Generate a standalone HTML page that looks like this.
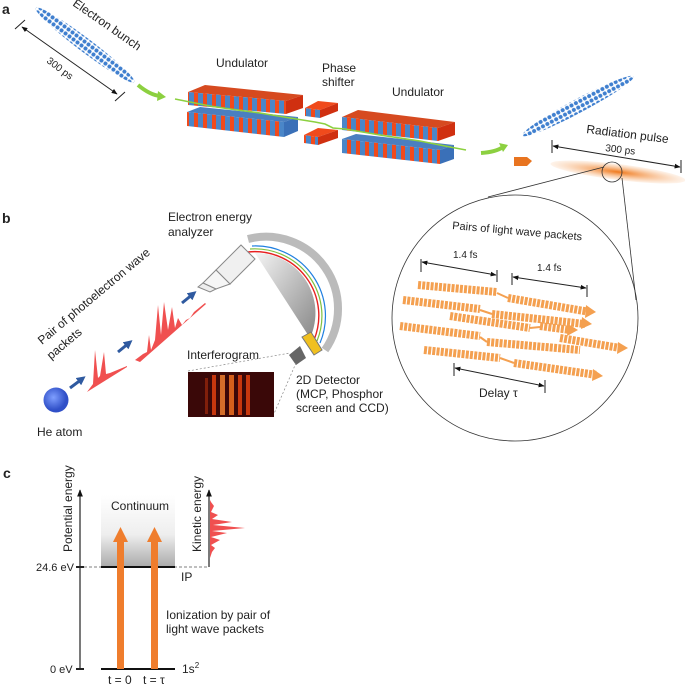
<!DOCTYPE html>
<html><head><meta charset="utf-8"><style>
html,body{margin:0;padding:0;background:#fff}
svg{display:block}
text{font-family:"Liberation Sans",Arial,sans-serif;fill:#222}
</style></head><body>
<svg width="685" height="684" viewBox="0 0 685 684" xmlns="http://www.w3.org/2000/svg">
<defs>
<pattern id="dots" width="5" height="5" patternUnits="userSpaceOnUse">
<circle cx="2.5" cy="2.5" r="2" fill="#3f7fcf"/>
</pattern>
<pattern id="mag" width="9" height="10" patternUnits="userSpaceOnUse">
<rect width="5" height="10" fill="#4a86c8"/><rect x="5" width="4" height="10" fill="#f04a1c"/>
</pattern>
<linearGradient id="cont" x1="0" y1="0" x2="0" y2="1">
<stop offset="0" stop-color="#fff"/><stop offset="0.55" stop-color="#eee"/><stop offset="1" stop-color="#aaa"/>
</linearGradient>
<linearGradient id="disk" x1="0" y1="0" x2="1" y2="1">
<stop offset="0" stop-color="#f4f4f4"/><stop offset="1" stop-color="#888"/>
</linearGradient>
<radialGradient id="pulse"><stop offset="0" stop-color="#f07a1e"/><stop offset="1" stop-color="#f7b37a" stop-opacity="0.15"/></radialGradient>
<radialGradient id="he" cx="0.4" cy="0.4"><stop offset="0" stop-color="#7f9fff"/><stop offset="1" stop-color="#3050c8"/></radialGradient>
<marker id="ah" viewBox="0 0 10 10" refX="9" refY="5" markerWidth="6" markerHeight="6" orient="auto-start-reverse"><path d="M0,1 L10,5 L0,9 z" fill="#111"/></marker>
<marker id="ahb" viewBox="0 0 10 10" refX="5" refY="5" markerWidth="3" markerHeight="3" orient="auto"><path d="M0,0 L10,5 L0,10 z" fill="#2f5aa0"/></marker>
</defs>

<text x="2" y="14" font-size="14" font-weight="bold" fill="#000">a</text>
<text x="2" y="223" font-size="14" font-weight="bold" fill="#000">b</text>
<text x="3" y="478" font-size="14" font-weight="bold" fill="#000">c</text>

<!-- Electron bunch -->
<ellipse cx="85" cy="45" rx="62" ry="7" transform="rotate(37 85 45)" fill="url(#dots)"/>
<text x="72" y="5" font-size="12" transform="rotate(35 72 5)">Electron bunch</text>
<line x1="15" y1="29" x2="25" y2="20" stroke="#222"/>
<line x1="115" y1="101" x2="125" y2="92" stroke="#222"/>
<line x1="22" y1="27" x2="117" y2="94" stroke="#222" marker-start="url(#ah)" marker-end="url(#ah)"/>
<text x="46" y="62" font-size="10" transform="rotate(37 46 62)">300 ps</text>
<path d="M138,85 Q150,95 160,96" stroke="#8cd040" stroke-width="4" fill="none"/>
<polygon points="158,91 166,97 157,101" fill="#8cd040"/>

<!-- Undulator 1 -->
<text x="216" y="67" font-size="12">Undulator</text>
<polygon points="188,92 286,101 303,95 205,85" fill="#d64a20"/>
<polygon points="188,92 286,101 286,114 188,105" fill="url(#mag)"/>
<polygon points="286,101 303,95 303,108 286,114" fill="#d03010"/>
<polygon points="187,112 284,122 298,117 200,107" fill="#4a7fc0"/>
<polygon points="187,112 284,122 284,137 187,126" fill="url(#mag)"/>
<polygon points="284,122 298,117 298,131 284,137" fill="#3a70b8"/>
<!-- Phase shifter -->
<text x="322" y="72" font-size="12">Phase</text>
<text x="322" y="86" font-size="12">shifter</text>
<polygon points="305,108 320,110 320,118 305,116" fill="url(#mag)"/>
<polygon points="305,108 318,101 338,103 320,110" fill="#f04a1c"/>
<polygon points="320,110 338,103 338,111 320,118" fill="#d03010"/>
<polygon points="304,135 318,137 318,145 304,143" fill="url(#mag)"/>
<polygon points="304,135 318,128 338,130 318,137" fill="#f04a1c"/>
<polygon points="318,137 338,130 338,138 318,145" fill="#d03010"/>
<!-- Undulator 2 -->
<text x="392" y="96" font-size="12">Undulator</text>
<polygon points="342,117 438,128 455,122 358,110" fill="#d64a20"/>
<polygon points="342,117 438,128 438,141 342,130" fill="url(#mag)"/>
<polygon points="438,128 455,122 455,135 438,141" fill="#d03010"/>
<polygon points="342,139 440,150 454,145 356,134" fill="#4a7fc0"/>
<polygon points="342,139 440,150 440,164 342,153" fill="url(#mag)"/>
<polygon points="440,150 454,145 454,159 440,164" fill="#3a70b8"/>
<path d="M175,99 L200,104 L210,106 L230,109 L260,113 L290,118 L315,122 L325,124 L333,128 L345,129 L380,135 L420,141 L450,147 L466,150" stroke="#8cd040" stroke-width="1.6" fill="none"/>
<path d="M481,153 Q496,152 503,147" stroke="#8cd040" stroke-width="4" fill="none"/>
<polygon points="499,143 508,145 503,152" fill="#8cd040"/>
<polygon points="514,157 527,157 532,161 527,166 514,166" fill="#e87420"/>

<!-- Radiation -->
<ellipse cx="578" cy="106" rx="63" ry="7" transform="rotate(-28 578 106)" fill="url(#dots)"/>
<text x="586" y="133" font-size="12" transform="rotate(7 586 133)">Radiation pulse</text>
<text x="605" y="151" font-size="10" transform="rotate(7 605 151)">300 ps</text>
<line x1="552" y1="140" x2="552" y2="153" stroke="#555" stroke-width="1.3"/>
<line x1="681" y1="160" x2="681" y2="173" stroke="#555" stroke-width="1.3"/>
<line x1="553" y1="146" x2="680" y2="167" stroke="#222" marker-start="url(#ah)" marker-end="url(#ah)"/>
<ellipse cx="618" cy="172" rx="68" ry="8" transform="rotate(7 618 172)" fill="url(#pulse)"/>
<circle cx="612" cy="172" r="10" fill="none" stroke="#333" stroke-width="0.8"/>
<line x1="604" y1="167" x2="488" y2="197" stroke="#333" stroke-width="0.8"/>
<line x1="622" y1="178" x2="636" y2="300" stroke="#333" stroke-width="0.8"/>
<circle cx="515" cy="318" r="123" fill="none" stroke="#333" stroke-width="0.8"/>

<!-- Light packets -->
<text x="452" y="229" font-size="11" transform="rotate(5 452 229)">Pairs of light wave packets</text>
<line x1="421" y1="259" x2="421" y2="272" stroke="#222"/>
<line x1="497" y1="270" x2="497" y2="282" stroke="#222"/>
<line x1="422" y1="262" x2="496" y2="275" stroke="#222" marker-start="url(#ah)" marker-end="url(#ah)"/>
<text x="453" y="258" font-size="10">1.4 fs</text>
<line x1="512" y1="273" x2="512" y2="285" stroke="#222"/>
<line x1="587" y1="285" x2="587" y2="297" stroke="#222"/>
<line x1="513" y1="277" x2="586" y2="288" stroke="#222" marker-start="url(#ah)" marker-end="url(#ah)"/>
<text x="537" y="271" font-size="10">1.4 fs</text>
<g stroke="#f4a050" stroke-width="8" fill="none" stroke-dasharray="3 1.2">
<path d="M418,285 L497,292"/><path d="M508,298 L590,312"/>
<path d="M403,300 L480,309"/><path d="M492,314 L585,324"/>
<path d="M450,316 L530,328"/><path d="M540,326 L570,330"/>
<path d="M400,326 L480,336"/><path d="M487,342 L580,350"/><path d="M560,338 L620,348"/>
<path d="M424,350 L500,358"/><path d="M514,363 L597,375"/>
</g>
<g stroke="#f4a050" stroke-width="2" fill="none">
<path d="M497,293 L508,298"/><path d="M480,310 L492,314"/><path d="M530,328 L540,327"/>
<path d="M480,337 L487,342"/><path d="M500,358 L514,363"/>
</g>
<g fill="#f4a050">
<polygon points="586,305 596,312 585,318"/><polygon points="582,317 592,324 581,329"/>
<polygon points="568,324 578,330 567,336"/><polygon points="618,342 628,348 617,354"/>
<polygon points="593,369 603,376 592,381"/>
</g>
<line x1="454" y1="363" x2="454" y2="376" stroke="#222"/>
<line x1="545" y1="380" x2="545" y2="393" stroke="#222"/>
<line x1="455" y1="368" x2="544" y2="386" stroke="#222" marker-start="url(#ah)" marker-end="url(#ah)"/>
<text x="479" y="397" font-size="12">Delay τ</text>

<!-- Panel b left -->
<circle cx="56" cy="400" r="12.5" fill="url(#he)"/>
<text x="37" y="436" font-size="12">He atom</text>
<text x="42" y="345" font-size="12" transform="rotate(-40 42 345)">Pair of photoelectron wave</text>
<text x="51" y="360" font-size="12" transform="rotate(-40 51 360)">packets</text>
<line x1="70" y1="388" x2="82" y2="379" stroke="#2f5aa0" stroke-width="3" marker-end="url(#ahb)"/>
<line x1="118" y1="352" x2="129" y2="343" stroke="#2f5aa0" stroke-width="3" marker-end="url(#ahb)"/>
<line x1="182" y1="303" x2="193" y2="294" stroke="#2f5aa0" stroke-width="3" marker-end="url(#ahb)"/>
<path d="M87,392 L93,384 L95,350 L98,378 L100,376 L104,352 L106,374 L110,373 L127,366 L127,367 Z" fill="#f05050"/>
<path d="M135,360 L143,354 L147,352 L149,335 L151,350 L155,340 L158,305 L161,335 L164,302 L168,330 L172,307 L175,328 L178,318 L182,325 L186,320 L190,318 L194,312 L205,303 L206,304 L140,362 Z" fill="#f05050"/>

<!-- Analyzer -->
<text x="168" y="221" font-size="12">Electron energy</text>
<text x="168" y="236" font-size="12">analyzer</text>
<path d="M248,239 A72,72 0 0 1 325,350" stroke="#bbb" stroke-width="8" fill="none"/>
<path d="M255,253 A60,60 0 0 1 310,338 Z" fill="url(#disk)"/>
<path d="M248,252 A64,64 0 0 1 314,340" stroke="#e82020" stroke-width="1.4" fill="none"/>
<path d="M250,249 A67,67 0 0 1 317,341" stroke="#80c040" stroke-width="1.2" fill="none"/>
<path d="M252,246 A70,70 0 0 1 320,343" stroke="#2080e0" stroke-width="1.2" fill="none"/>
<polygon points="216,270 241,245 255,259 230,284" fill="#f0f0f0" stroke="#888"/>
<polygon points="203,283 216,270 230,284 216,289" fill="#f6f6f6" stroke="#888"/>
<polygon points="198,287 203,283 216,289 210,292" fill="#eee" stroke="#888"/>
<polygon points="302,337 311,332 322,350 314,355" fill="#f0c020" stroke="#777"/>
<polygon points="289,355 300,346 306,358 296,365" fill="#666"/>
<text x="187" y="359" font-size="12">Interferogram</text>
<line x1="188" y1="371" x2="290" y2="353" stroke="#888" stroke-dasharray="2 2" stroke-width="0.7"/>
<line x1="273" y1="416" x2="296" y2="363" stroke="#888" stroke-dasharray="2 2" stroke-width="0.7"/>
<rect x="188" y="372" width="86" height="45" fill="#3a0808"/>
<g fill="#e04010" opacity="0.85">
<rect x="212" y="375" width="4" height="40"/><rect x="220" y="375" width="5" height="40" fill="#f08030"/>
<rect x="229" y="375" width="5" height="40" fill="#f07020"/><rect x="238" y="375" width="4" height="40"/>
<rect x="246" y="375" width="4" height="40"/><rect x="205" y="378" width="3" height="36" opacity="0.5"/>
</g>
<text x="296" y="384" font-size="12">2D Detector</text>
<text x="296" y="398" font-size="12">(MCP, Phosphor</text>
<text x="296" y="412" font-size="12">screen and CCD)</text>

<!-- Panel c -->
<rect x="101" y="495" width="74" height="72" fill="url(#cont)"/>
<text x="111" y="510" font-size="12">Continuum</text>
<line x1="80" y1="669" x2="80" y2="490" stroke="#222" stroke-width="1.2" marker-end="url(#ah)"/>
<text x="72" y="552" font-size="12" transform="rotate(-90 72 552)">Potential energy</text>
<line x1="76" y1="567" x2="84" y2="567" stroke="#222" stroke-width="2"/>
<line x1="76" y1="669" x2="84" y2="669" stroke="#222" stroke-width="2"/>
<line x1="84" y1="567" x2="209" y2="567" stroke="#555" stroke-dasharray="3 2" stroke-width="0.8"/>
<line x1="101" y1="567" x2="175" y2="567" stroke="#111" stroke-width="2"/>
<line x1="101" y1="669" x2="175" y2="669" stroke="#111" stroke-width="2"/>
<text x="36" y="571" font-size="11">24.6 eV</text>
<text x="50" y="673" font-size="11">0 eV</text>
<text x="181" y="581" font-size="12">IP</text>
<text x="182" y="673" font-size="12">1s<tspan font-size="8" dy="-5">2</tspan></text>
<rect x="117" y="541" width="7" height="128" fill="#ef7d2d"/>
<polygon points="113,542 120.5,527 128,542" fill="#ef7d2d"/>
<rect x="151" y="541" width="7" height="128" fill="#ef7d2d"/>
<polygon points="147,542 154.5,527 162,542" fill="#ef7d2d"/>
<text x="108" y="684" font-size="12">t = 0</text>
<text x="143" y="684" font-size="12">t = τ</text>
<text x="166" y="619" font-size="12">Ionization by pair of</text>
<text x="166" y="633" font-size="12">light wave packets</text>
<line x1="209" y1="567" x2="209" y2="490" stroke="#222" stroke-width="1.2" marker-end="url(#ah)"/>
<text x="201" y="552" font-size="12" transform="rotate(-90 201 552)">Kinetic energy</text>
<path d="M210,558 L212,552 L215,548 L211,545 L220,540 L211,537 L227,533 L212,531 L245,528 L213,525 L232,522 L212,519 L218,515 L211,512 L214,506 L211,502 L210,500 Z" fill="#f05050"/>
</svg>
</body></html>
